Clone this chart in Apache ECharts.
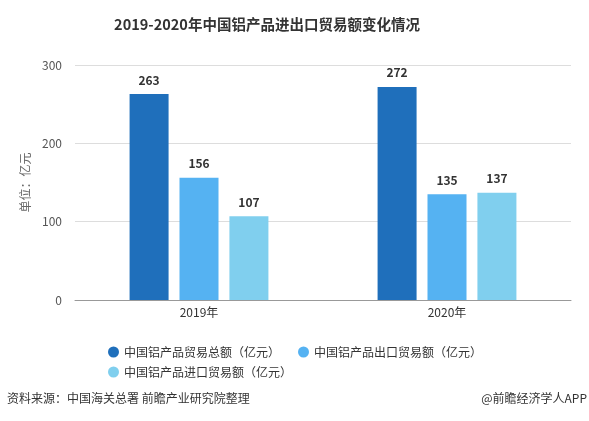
<!DOCTYPE html>
<html>
<head>
<meta charset="utf-8">
<script src="https://cdn.jsdelivr.net/npm/echarts@6/dist/echarts.min.js"></script>
<style>
html, body { margin: 0; padding: 0; background: #fff; }
#main { width: 589px; height: 421px; }
</style>
</head>
<body>
<div id="main"></div>
<script>
const years = ["2019年", "2020年"];
const total = [263, 272];
const exportVals = [156, 135];
const importVals = [107, 137];
const seriesNames = ["中国铝产品贸易总额（亿元）", "中国铝产品出口贸易额（亿元）", "中国铝产品进口贸易额（亿元）"];
const colors = ["#1f6fbb", "#55b2f2", "#80cfee"];
const yTicks = [0, 100, 200, 300];

const chart = echarts.init(document.getElementById("main"));
const font = "'Microsoft YaHei', 'Noto Sans CJK SC', sans-serif";

function bar(name, data, color) {
	return {
		name: name,
		type: "bar",
		data: data,
		barWidth: 39,
		barGap: "28%",
		itemStyle: { color: color },
		label: {
			show: true,
			position: "top",
			distance: 8,
			color: "#333",
			fontWeight: "bold",
			fontSize: 12,
			fontFamily: font
		}
	};
}

const legendBase = {
	itemGap: 18,
	itemWidth: 11,
	itemHeight: 11,
	icon: "circle",
	textStyle: { fontSize: 12, color: "#333", fontFamily: font }
};

let option = {
	backgroundColor: "#fff",
	textStyle: { fontFamily: font },
	title: {
		text: "2019-2020年中国铝产品进出口贸易额变化情况",
		left: 262,
		textAlign: "center",
		top: 12,
		textStyle: { fontSize: 14.5, fontWeight: "bold", color: "#333", fontFamily: font }
	},
	legend: [
		Object.assign({ left: 103, top: 341, data: seriesNames.slice(0, 2) }, legendBase),
		Object.assign({ left: 103, top: 361, data: seriesNames.slice(2) }, legendBase)
	],
	grid: { left: 75, right: 18, top: 65, bottom: 121 },
	xAxis: {
		type: "category",
		data: years,
		axisLine: { lineStyle: { color: "#999" } },
		axisTick: { alignWithLabel: true, length: 4, lineStyle: { color: "#999" } },
		axisLabel: { color: "#333", fontSize: 12, margin: 6 }
	},
	yAxis: {
		type: "value",
		min: yTicks[0],
		max: yTicks[yTicks.length - 1],
		interval: 100,
		name: "单位：亿元",
		nameLocation: "middle",
		nameGap: 43,
		nameTextStyle: { color: "#666", fontSize: 12 },
		axisLine: { show: false },
		axisTick: { show: false },
		axisLabel: { color: "#555", fontSize: 12, margin: 13 },
		splitLine: { lineStyle: { color: "#ddd" } }
	},
	graphic: [
		{
			type: "text",
			left: 7,
			top: 392,
			style: { text: "资料来源：中国海关总署 前瞻产业研究院整理", fill: "#333", fontSize: 12, fontFamily: font }
		},
		{
			type: "text",
			right: 2,
			top: 392,
			style: { text: "@前瞻经济学人APP", fill: "#333", fontSize: 12, fontFamily: font }
		}
	],
	series: [
		bar(seriesNames[0], total, colors[0]),
		bar(seriesNames[1], exportVals, colors[1]),
		bar(seriesNames[2], importVals, colors[2])
	]
};

chart.setOption(option);
</script>
</body>
</html>
